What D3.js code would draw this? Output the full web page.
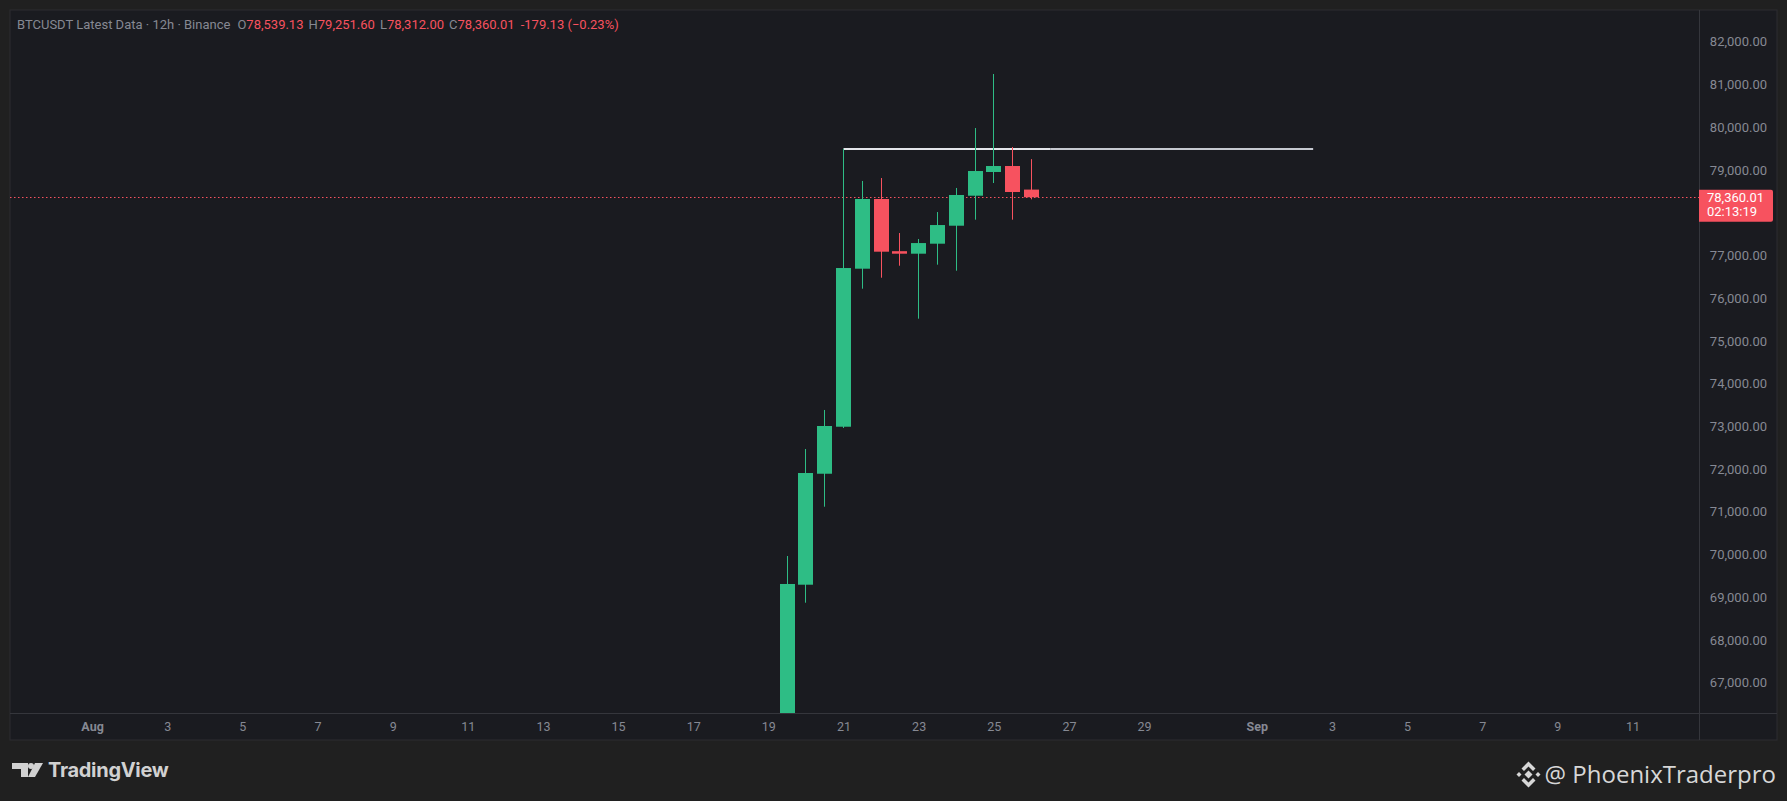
<!DOCTYPE html>
<html>
<head>
<meta charset="utf-8">
<script src="https://cdn.jsdelivr.net/npm/d3@7"></script>
<style>
  body { margin: 0; background: #202020; }
  svg { display: block; }
</style>
</head>
<body>
<div id="chart"></div>
<script>
// 12h candles, BTCUSDT (Binance)
var candleTimes = ["2025-08-19T12:00", "2025-08-20T00:00", "2025-08-20T12:00", "2025-08-21T00:00",
                   "2025-08-21T12:00", "2025-08-22T00:00", "2025-08-22T12:00", "2025-08-23T00:00",
                   "2025-08-23T12:00", "2025-08-24T00:00", "2025-08-24T12:00", "2025-08-25T00:00",
                   "2025-08-25T12:00", "2025-08-26T00:00"];
var opens  = [66050, 69293, 71890, 72990, 76688, 78319, 77098, 77039, 77273, 77694, 78396, 78951, 79091, 78539.13];
var highs  = [69965, 72469, 73382, 79489, 78741, 78810, 77523, 77383, 78014, 78577, 79980, 81244, 79536, 79251.60];
var lows   = [65700, 68872, 71118, 72960, 76220, 76477, 76758, 75518, 76782, 76641, 77835, 78693, 77835, 78312.00];
var closes = [69310, 71907, 73007, 76704, 78319, 77086, 77039, 77288, 77710, 78413, 78974, 79091, 78483, 78360.01];

var lastPrice = 78360.01;
var lastChange = "-179.13";
var lastChangePct = "−0.23%";
var countdown = "02:13:19";

// horizontal line drawn from the Aug 21 high
var levelPrice = 79489;
var levelStart = "2025-08-21T00:00";
var levelMid = "2025-08-26T12:00";
var levelEnd = "2025-09-02T12:00";

var priceTicks = [67000, 68000, 69000, 70000, 71000, 72000, 73000, 74000, 75000, 76000, 77000, 79000, 80000, 81000, 82000];
var timeTicks = ["2025-08-01", "2025-08-03", "2025-08-05", "2025-08-07", "2025-08-09", "2025-08-11", "2025-08-13",
                 "2025-08-15", "2025-08-17", "2025-08-19", "2025-08-21", "2025-08-23", "2025-08-25", "2025-08-27",
                 "2025-08-29", "2025-09-01", "2025-09-03", "2025-09-05", "2025-09-07", "2025-09-09", "2025-09-11"];
var timeLabels = ["Aug", "3", "5", "7", "9", "11", "13", "15", "17", "19", "21", "23", "25", "27", "29",
                  "Sep", "3", "5", "7", "9", "11"];

var W = 1787, H = 801;
var pane = {left: 10, top: 10, right: 1699, bottom: 713};
var axisRight = 1777, axisBottom = 740;

var green = "#2ebd85", red = "#f7525f";
var axisText = "#868993";

function utc(s) { return new Date(s + "Z"); }

var svg = d3.select("#chart").append("svg")
  .attr("width", W)
  .attr("height", H);

svg.append("rect").attr("width", W).attr("height", H).attr("fill", "#202020");
// chart frame
svg.append("rect")
  .attr("x", pane.left).attr("y", pane.top)
  .attr("width", axisRight - pane.left).attr("height", axisBottom - pane.top)
  .attr("fill", "#1a1b20")
  .attr("stroke", "#2c2d31");

// scales
var x = d3.scaleUtc()
  .domain([utc("2025-08-01T00:00"), utc("2025-09-11T00:00")])
  .range([92.1, 1632.5]);
var y = d3.scaleLinear()
  .domain([67000, 82000])
  .range([682.7, 41.7]);

svg.append("clipPath").attr("id", "paneClip")
  .append("rect")
  .attr("x", pane.left).attr("y", pane.top)
  .attr("width", pane.right - pane.left).attr("height", pane.bottom - pane.top);

var plot = svg.append("g").attr("clip-path", "url(#paneClip)");

// last price dotted line
plot.append("line")
  .attr("x1", pane.left).attr("x2", pane.right)
  .attr("y1", Math.round(y(lastPrice)) + 0.5).attr("y2", Math.round(y(lastPrice)) + 0.5)
  .attr("stroke", red)
  .attr("stroke-width", 1)
  .attr("stroke-dasharray", "1.5,2.5");

// level line
plot.append("line")
  .attr("x1", x(utc(levelStart))).attr("x2", x(utc(levelMid)))
  .attr("y1", y(levelPrice)).attr("y2", y(levelPrice))
  .attr("stroke", "#e3e5ea").attr("stroke-width", 2);
plot.append("line")
  .attr("x1", x(utc(levelMid))).attr("x2", x(utc(levelEnd)))
  .attr("y1", y(levelPrice)).attr("y2", y(levelPrice))
  .attr("stroke", "#c6c9d0").attr("stroke-width", 2);

var candles = candleTimes.map(function(t, i) {
  return {t: utc(t), o: opens[i], h: highs[i], l: lows[i], c: closes[i]};
});
var bodyW = 15;

// wicks
plot.selectAll(".wick")
  .data(candles)
  .enter()
  .append("line")
  .attr("x1", function(d) { return Math.floor(x(d.t)) + 0.5; })
  .attr("x2", function(d) { return Math.floor(x(d.t)) + 0.5; })
  .attr("y1", function(d) { return y(d.h); })
  .attr("y2", function(d) { return y(d.l); })
  .attr("stroke", function(d) { return d.c >= d.o ? green : red; })
  .attr("stroke-width", 1);

// bodies
plot.selectAll(".body")
  .data(candles)
  .enter()
  .append("rect")
  .attr("x", function(d) { return Math.floor(x(d.t)) - 7; })
  .attr("y", function(d) { return y(Math.max(d.o, d.c)); })
  .attr("width", bodyW)
  .attr("height", function(d) { return Math.max(2, y(Math.min(d.o, d.c)) - y(Math.max(d.o, d.c))); })
  .attr("fill", function(d) { return d.c >= d.o ? green : red; });

// pane separators
svg.append("line")
  .attr("x1", pane.right + 0.5).attr("x2", pane.right + 0.5)
  .attr("y1", pane.top).attr("y2", axisBottom)
  .attr("stroke", "#35363c");
svg.append("line")
  .attr("x1", pane.left).attr("x2", axisRight)
  .attr("y1", pane.bottom + 0.5).attr("y2", pane.bottom + 0.5)
  .attr("stroke", "#35363c");

// price axis
var yAxis = svg.append("g")
  .attr("transform", "translate(1767,0)")
  .call(d3.axisLeft(y).tickValues(priceTicks).tickSize(0).tickPadding(0)
    .tickFormat(d3.format(",.2f")));
yAxis.select(".domain").remove();
yAxis.selectAll("text")
  .attr("fill", axisText)
  .attr("font-family", "Roboto, sans-serif")
  .attr("font-size", 13);

// time axis
var xAxis = svg.append("g")
  .attr("transform", "translate(0," + pane.bottom + ")")
  .call(d3.axisBottom(x).tickValues(timeTicks.map(function(s) { return utc(s + "T00:00"); }))
    .tickSize(0).tickPadding(9)
    .tickFormat(function(d, i) { return timeLabels[i]; }));
xAxis.select(".domain").remove();
xAxis.selectAll("text")
  .attr("fill", axisText)
  .attr("font-family", "'Liberation Sans Narrow', Roboto, sans-serif")
  .attr("font-size", 12.5)
  .attr("font-weight", function(d, i) { return isNaN(+timeLabels[i]) ? "bold" : "normal"; });

// last price label
var ly = y(lastPrice);
svg.append("path")
  .attr("d", "M1699," + (ly - 7.5) + "H1771a2,2 0 0 1 2,2V" + (ly + 22.5) + "a2,2 0 0 1 -2,2H1699Z")
  .attr("fill", red);
svg.append("text")
  .attr("x", 1707).attr("y", ly + 4.5)
  .attr("fill", "#ffffff")
  .attr("font-family", "Roboto, sans-serif").attr("font-size", 13)
  .text(d3.format(",.2f")(lastPrice));
svg.append("text")
  .attr("x", 1707).attr("y", ly + 19)
  .attr("fill", "#ffffff")
  .attr("font-family", "Roboto, sans-serif").attr("font-size", 13)
  .text(countdown);

// legend line
var head = svg.append("text")
  .attr("x", 17).attr("y", 28.5)
  .attr("font-family", "Roboto, sans-serif")
  .attr("font-size", 13)
  .attr("fill", axisText);
head.append("tspan").text("BTCUSDT Latest Data · 12h · Binance");
var ohlc = [["O", opens[13]], ["H", highs[13]], ["L", lows[13]], ["C", closes[13]]];
ohlc.forEach(function(p, i) {
  head.append("tspan").attr("dx", i === 0 ? 7 : 5).attr("fill", axisText).text(p[0]);
  head.append("tspan").attr("fill", red).text(d3.format(",.2f")(p[1]));
});
head.append("tspan").attr("dx", 6).attr("fill", red)
  .text(lastChange + " (" + lastChangePct + ")");

// TradingView logo
var logo = svg.append("g").attr("fill", "#d1d1d1");
logo.append("path").attr("d", "M12,763H28V777H21V769H12Z");
logo.append("circle").attr("cx", 31).attr("cy", 766).attr("r", 3);
logo.append("path").attr("d", "M35,763H43L35,777H28Z");
svg.append("text")
  .attr("x", 48).attr("y", 777)
  .attr("fill", "#d1d1d1")
  .attr("font-family", "Inter, 'Noto Sans', sans-serif")
  .attr("font-weight", "bold")
  .attr("font-size", 20)
  .attr("letter-spacing", -0.3)
  .text("TradingView");

// watermark
var bn = svg.append("g").attr("fill", "#d7d7d7").attr("transform", "translate(1528.5,774.5)");
bn.append("path").attr("d", "M0,-4L4,0L0,4L-4,0Z");
bn.append("path").attr("d", "M-12,0L-9.5,-2.5L-7,0L-9.5,2.5Z");
bn.append("path").attr("d", "M12,0L9.5,-2.5L7,0L9.5,2.5Z");
bn.append("path").attr("d", "M0,-13L7,-6L4.5,-3.5L0,-8L-4.5,-3.5L-7,-6Z");
bn.append("path").attr("d", "M0,13L7,6L4.5,3.5L0,8L-4.5,3.5L-7,6Z");
svg.append("text")
  .attr("x", 1776).attr("y", 783)
  .attr("text-anchor", "end")
  .attr("fill", "#d7d7d7")
  .attr("font-family", "'Open Sans', 'Noto Sans', sans-serif")
  .attr("font-size", 24)
  .text("@ PhoenixTraderpro");
</script>
</body>
</html>
